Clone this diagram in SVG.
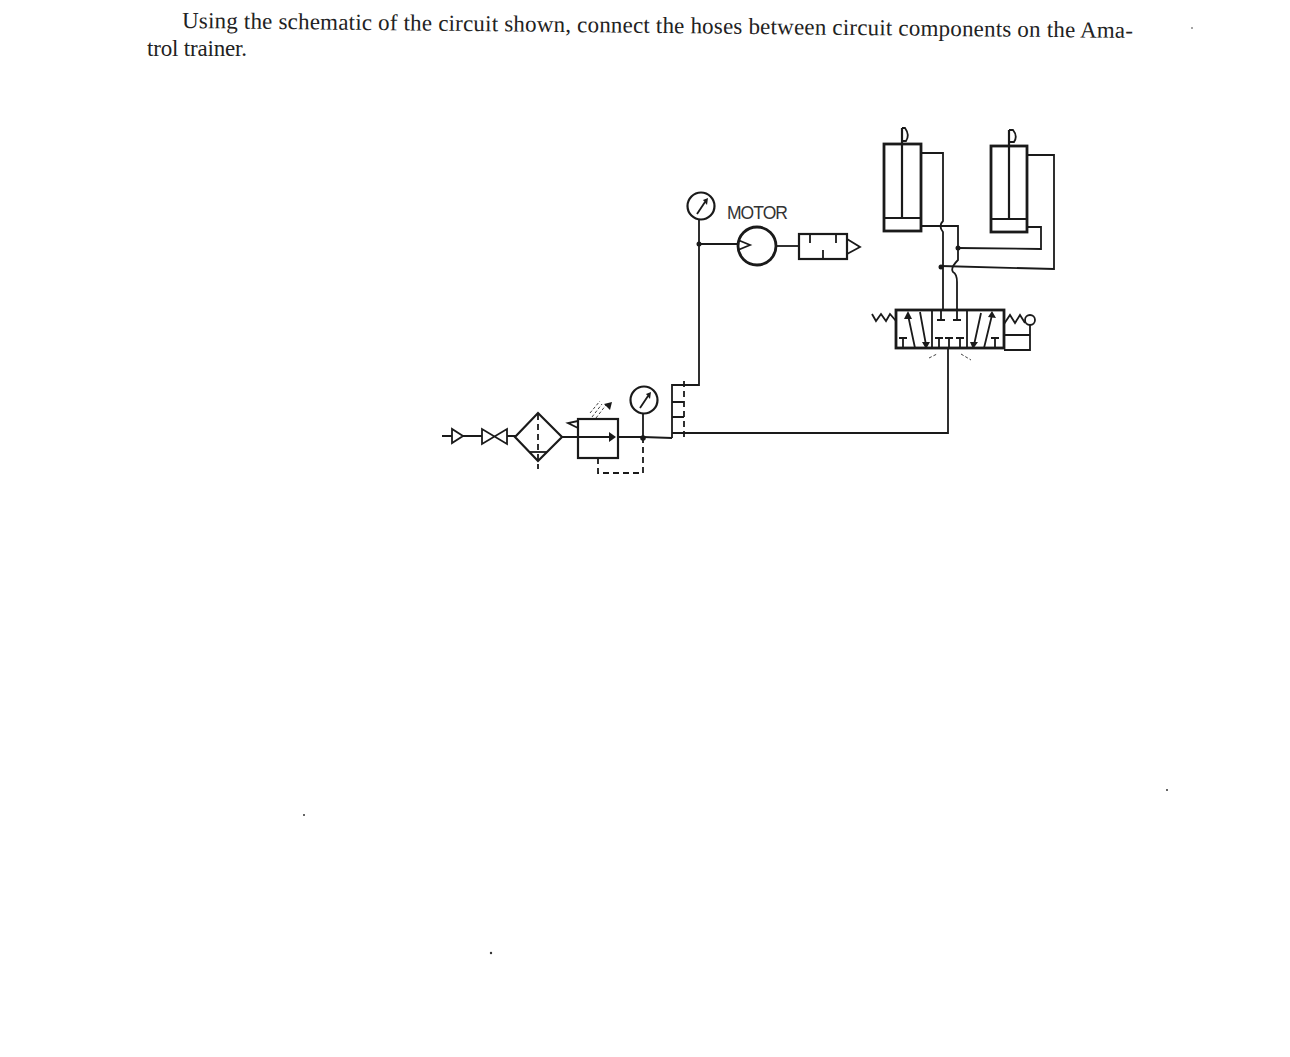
<svg xmlns="http://www.w3.org/2000/svg" width="1290" height="1057" viewBox="0 0 1290 1057">
<style>
.l{fill:none;stroke:#1a1a1a;stroke-width:1.8}
.t{fill:none;stroke:#1a1a1a;stroke-width:2.2}
.h{fill:none;stroke:#1a1a1a;stroke-width:2.8}
.d{fill:none;stroke:#1a1a1a;stroke-width:1.8;stroke-dasharray:6 4}
.s{fill:none;stroke:#444;stroke-width:1;stroke-dasharray:3 2}
.f{fill:#1a1a1a}
.x{font-family:"Liberation Serif",serif;font-size:23px;fill:#222}
</style>
<rect width="1290" height="1057" fill="#fff"/>
<text class="x" transform="translate(182 28) rotate(0.6)" textLength="951">Using the schematic of the circuit shown, connect the hoses between circuit components on the Ama-</text>
<text class="x" x="147" y="56" textLength="100">trol trainer.</text>
<g id="connectors">
<path class="l" d="M699 220V385H672V438M672 433H948V349"/>
<path class="l" d="M618 437H643L672 438"/>
<path class="l" d="M699 244H738"/>
<path class="l" d="M776 246H798"/>
<path class="l" d="M921 153H943V221Q938 226 943 232V310"/>
<path class="l" d="M920 226H958V260Q950 268 953 272Q957 274 957 282V310"/>
<path class="l" d="M958 248L1041 249V227H1027"/>
<path class="l" d="M941 266L1054 269V155H1027"/>
<circle class="f" cx="958" cy="248" r="2.5"/><circle class="f" cx="941" cy="267" r="2.5"/>
<path class="d" d="M598 458V473H643V438"/>
<path class="d" d="M684 381V438"/>
<path class="l" d="M672 402H684M672 417H684"/>
</g>
<g id="filter-input">
<path class="l" d="M442 436H452M463 436H482M507 436H516"/>
<path class="l" d="M452 429V443L463 436Z"/>
<path class="l" d="M482 429V444L507 429V444Z"/>
</g>
<g id="filter">
<path class="t" d="M515 437L538 413L562 437L538 461Z"/>
<path class="d" d="M538 414V469"/>
<path class="l" d="M530 452H547"/>
</g>
<g id="regulator">
<rect class="t" x="578" y="419" width="40" height="39"/>
<path class="l" d="M562 437H610"/>
<path class="f" d="M609 432L616 437L609 442Z"/>
<path class="l" d="M578 421L568 423L578 428"/>
<path class="s" d="M592 417L602 404M596 418L606 405M590 413L600 401"/>
<path class="f" d="M604 404L612 402L610 410Z"/>
<circle class="f" cx="643" cy="438" r="2.8"/>
</g>
<g id="gauge-1">
<circle class="t" cx="644" cy="400" r="13.5"/>
<path class="l" d="M640 408L648 396M643 414V438"/>
<path class="f" d="M646 394L651 392L650 399Z"/>
</g>
<g id="gauge-2">
<circle class="t" cx="701" cy="206" r="13.5"/>
<path class="l" d="M697 214L705 202"/>
<path class="f" d="M703 200L708 198L707 205Z"/>
<circle class="f" cx="699" cy="244" r="2.5"/>
</g>
<g id="motor">
<text x="727" y="219" font-family="Liberation Sans, sans-serif" font-size="17.5" fill="#333" textLength="61">MOTOR</text>
<circle class="h" cx="757" cy="246" r="19"/>
<path class="l" d="M738 240L750 245L738 250"/>
</g>
<g id="exhaust">
<rect class="t" x="799" y="234" width="48" height="25"/>
<path class="l" d="M810 234V243M836 234V243M823 250V259M847 239L860 247L847 254"/>
</g>
<g id="cylinder-1">
<rect class="h" x="884" y="144" width="37" height="87"/>
<path class="l" d="M884 218H921"/>
<path class="t" d="M902 128V218"/>
<path class="l" d="M902 128H905Q910 135 906 141H902"/>
</g>
<g id="cylinder-2">
<rect class="h" x="991" y="146" width="36" height="86"/>
<path class="l" d="M991 219H1027"/>
<path class="t" d="M1009 130V219"/>
<path class="l" d="M1009 130H1013Q1018 136 1014 142H1009"/>
</g>
<g id="valve">
<rect class="h" x="896" y="310" width="108" height="38"/>
<path class="l" d="M932 311V347M967 311V347"/>
<path class="l" d="M872 314L876 321L881 314L886 321L890 314L896 321"/>
<path class="l" d="M1004 324L1010 315L1015 323L1020 315L1025 323"/>
<circle class="l" cx="1030" cy="320" r="5"/>
<path class="l" d="M1030 325V350H1004M1004 335H1030"/>
<path class="l" d="M908 315L915 348M920 312L926 345"/>
<path class="f" d="M904 319L908 311L912 319ZM922 342L930 342L926 349ZM970 342L978 342L973 349ZM988 317L996 318L992 311Z"/>
<path class="l" d="M981 313L974 345M992 315L984 348"/>
<path class="l" d="M899 338H907M903 338V348M991 338H999M995 338V348"/>
<path class="l" d="M937 320H945M953 320H961M941 310V320M957 310V320"/>
<path class="l" d="M935 338H943M939 338V348M945 338H953M949 338V348M956 338H964M960 338V348"/>
<path class="s" d="M929 358L937 354M961 354L971 360"/>
</g>
<g id="specks" fill="#333">
<circle cx="491" cy="953" r="1.2"/><circle cx="304" cy="815" r="1"/><circle cx="1167" cy="790" r="1"/><circle cx="1192" cy="28" r="0.8"/>
</g>
</svg>
